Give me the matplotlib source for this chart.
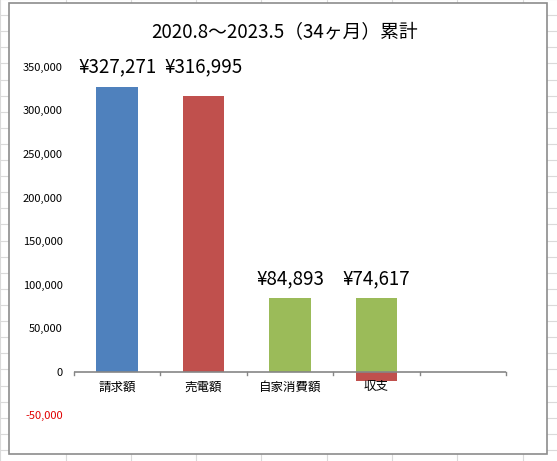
import matplotlib
matplotlib.use("Agg")
import matplotlib.pyplot as plt
from matplotlib.lines import Line2D
from matplotlib.patches import Rectangle
from matplotlib.ticker import FuncFormatter

plt.rcParams['font.family'] = ['Noto Sans CJK JP', 'DejaVu Sans']

# ---- data ----
categories = ['請求額', '売電額', '自家消費額', '収支', '']
bar_positive = [327271, 316995, 84893, 84893]
bar_negative = [0, 0, 0, -10276]
label_values = [327271, 316995, 84893, 74617]
title = '2020.8～2023.5（34ヶ月）累計'
y_ticks = [-50000, 0, 50000, 100000, 150000, 200000, 250000, 300000, 350000]

pos_colors = ['#4F81BD', '#C0504D', '#9BBB59', '#9BBB59']
neg_color = '#C0504D'

W, H = 557, 461
fig = plt.figure(figsize=(W / 100, H / 100), dpi=100)
fig.patch.set_facecolor('white')

def fx(px):
    return px / W

def fy(py):
    return 1 - py / H

# spreadsheet grid behind the chart
grid_c = '#DADADA'
x = 457.3 - 65.3 * 7
while x < W:
    fig.add_artist(Line2D([fx(x), fx(x)], [0, 1], color=grid_c, lw=0.8, zorder=0))
    x += 65.3
y = 353.3 - 16.1 * 22
while y < H:
    fig.add_artist(Line2D([0, 1], [fy(y), fy(y)], color=grid_c, lw=0.8, zorder=0))
    y += 16.1

# chart frame
fig.add_artist(Rectangle((fx(9), fy(454)), fx(547) - fx(9), fy(3.5) - fy(454),
                         facecolor='white', edgecolor='#8C8C8C', lw=1.2, zorder=1))

# axes
left, right = 74, 506
top_px, bot_px = 66.9, 415.2
ax = fig.add_axes([fx(left), fy(bot_px), fx(right) - fx(left), fy(top_px) - fy(bot_px)])
ax.set_zorder(2)
ax.patch.set_alpha(0)

n = len(categories)
xs = list(range(len(bar_positive)))
bw = 0.48
ax.bar(xs, bar_positive, width=bw, color=pos_colors, zorder=3)
ax.bar(xs, bar_negative, width=bw, color=neg_color, zorder=3)

ax.set_xlim(-0.5, n - 0.5)
ax.set_ylim(y_ticks[0], y_ticks[-1])

for s in ['top', 'right', 'left', 'bottom']:
    ax.spines[s].set_visible(False)

# x axis line at zero with boundary ticks
ax.axhline(0, color='#868686', lw=1.2, zorder=4)
for b in range(n + 1):
    ax.plot([b - 0.5, b - 0.5], [0, -3500], color='#868686', lw=1.0, zorder=4, clip_on=False)

ax.set_xticks(range(n))
ax.set_xticklabels([])
ax.tick_params(axis='x', length=0)
for i, c in enumerate(categories):
    ax.annotate(c, (i, 0), xytext=(0, -11), textcoords='offset points',
                ha='center', va='center', fontsize=9, color='black')

ax.set_yticks(y_ticks)
ax.yaxis.set_major_formatter(FuncFormatter(lambda v, p: f'{int(v):,}'))
ax.tick_params(axis='y', length=0, pad=8, labelsize=8, labelcolor='black')
for lab, v in zip(ax.get_yticklabels(), y_ticks):
    if v < 0:
        lab.set_color('#E00000')

# data labels (Excel keeps them inside the plot area top)
for i, (top, val) in enumerate(zip(bar_positive, label_values)):
    ly = min(top + 22000, 350500)
    if top > 300000:
        ly = 350500
    ax.text(i, ly, f'¥{val:,}', ha='center', va='center', fontsize=13.5,
            color='black', zorder=5, clip_on=False)

fig.text(fx(285), fy(31.7), title, ha='center', va='center', fontsize=13.5, color='black')

fig.savefig('out.png', dpi=100)
